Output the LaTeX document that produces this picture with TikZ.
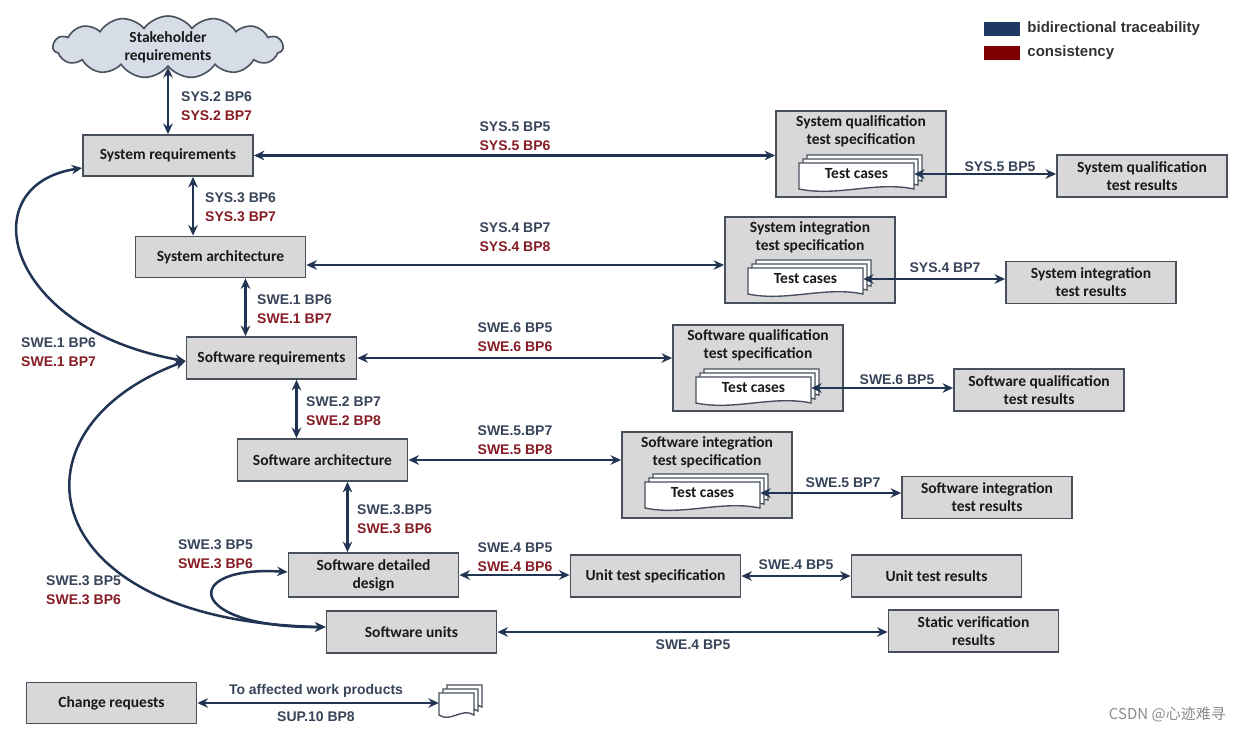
\documentclass[tikz,border=0pt]{standalone}
\usepackage{fontspec}
\setmainfont{Carlito}
\newfontfamily\arialfont{Liberation Sans}
\newfontfamily\cjkfont{Noto Sans CJK SC}
\usetikzlibrary{arrows.meta,shapes.symbols,positioning}

\definecolor{boxfill}{RGB}{216,216,216}
\definecolor{boxline}{RGB}{72,80,94}
\definecolor{linkblue}{RGB}{33,52,84}
\definecolor{traceblue}{RGB}{56,68,90}
\definecolor{consred}{RGB}{135,28,36}
\definecolor{cloudfill}{RGB}{214,221,231}
\definecolor{legblue}{RGB}{31,56,100}
\definecolor{legred}{RGB}{128,0,0}

\newcommand{\bxfont}{\bfseries\fontsize{15.5}{18}\selectfont}
\newcommand{\bpfont}{\arialfont\bfseries\fontsize{14}{18.5}\selectfont}
\newcommand{\cons}[1]{\textcolor{consred}{#1}}

\tikzset{
  box/.style={draw=boxline, fill=boxfill, line width=1.8pt, minimum width=170, minimum height=42, inner sep=2pt, align=center, font=\bxfont, text=black!90},
  specbox/.style={box, minimum height=86},
  spectitle/.style={font=\bxfont, align=center, text=black!90, inner sep=1pt},
  bp/.style={font=\bpfont, text=traceblue, align=center, inner sep=1pt},
  bpl/.style={bp, align=left, anchor=west},
  link/.style={draw=linkblue, line width=2.5pt, {Stealth[length=10.5pt,width=9.5pt]}-{Stealth[length=10.5pt,width=9.5pt]}},
  docpage/.style={draw=boxline, fill=white, line width=1.4pt},
  pics/docstack/.style n args={3}{code={
    \foreach \k in {2,1,0}{
      \begin{scope}[shift={(4*\k,-4*\k)}]
        \draw[docpage] (-#1/2,#2/2) -- (-#1/2,-#2/2) -- (#1/2,-#2/2) -- (#1/2,#2/2)
          .. controls (#1/6,#2/2-8) and (-#1/6,#2/2+8) .. (-#1/2,#2/2) -- cycle;
      \end{scope}
    }
    \node[minimum width=#1, minimum height=#2, inner sep=0pt, font=\bxfont, text=black!90] (-txt) at (0,-2) {#3};
  }}
}

\begin{document}
\begin{tikzpicture}[x=1pt,y=-1pt]
\fill[white] (0,0) rectangle (1241,732);
\useasboundingbox (0,0) rectangle (1241,732);

% legend
\node[fill=legblue, minimum width=36, minimum height=14, inner sep=0pt] (legtrace) at (1002,29) {};
\node[fill=legred, minimum width=36, minimum height=14, inner sep=0pt] (legcons) at (1002,53) {};
\node[right=7pt of legtrace, font=\arialfont\bfseries\fontsize{15}{18}\selectfont, text=black!80, inner sep=0pt] (legtrace-txt) {bidirectional traceability};
\node[right=7pt of legcons, font=\arialfont\bfseries\fontsize{15}{18}\selectfont, text=black!80, inner sep=0pt] (legcons-txt) {consistency};

% left side work products
\node[cloud, cloud puffs=15, cloud puff arc=110, aspect=3.7, draw=boxline, fill=cloudfill, line width=1.6pt, minimum width=230, minimum height=62, inner sep=0pt, font=\bxfont, align=center, text=black!90] (stake) at (168,47) {Stakeholder\\requirements};
\node[box, minimum height=41] (sysreq) at (168,155.5) {System requirements};
\node[box, minimum height=41] (sysarch) at (220.5,257) {System architecture};
\node[box] (swreq) at (271.5,358) {Software requirements};
\node[box] (swarch) at (322.5,460) {Software architecture};
\node[box, minimum height=44] (swdd) at (373.5,575) {Software detailed\\design};
\node[box] (swunits) at (411.5,632) {Software units};
\node[box, minimum height=41] (cr) at (111.5,703) {Change requests};

% test specifications
\node[specbox] (sqts) at (861,154) {};
\node[spectitle, below=4pt of sqts.north] (sqts-title) {System qualification\\test specification};
\pic (sqdoc) at (856.5,176) {docstack={115}{26}{Test cases}};
\node[specbox] (sits) at (810,260) {};
\node[spectitle, below=4pt of sits.north] (sits-title) {System integration\\test specification};
\pic (sidoc) at (805.5,281) {docstack={115}{26}{Test cases}};
\node[specbox] (swqts) at (758,368) {};
\node[spectitle, below=4pt of swqts.north] (swqts-title) {Software qualification\\test specification};
\pic (swqdoc) at (753.5,390) {docstack={115}{26}{Test cases}};
\node[specbox] (swits) at (707,475) {};
\node[spectitle, below=4pt of swits.north] (swits-title) {Software integration\\test specification};
\pic (swidoc) at (702.5,495) {docstack={115}{26}{Test cases}};

% results
\node[box] (sqres) at (1142,176) {System qualification\\test results};
\node[box] (sires) at (1091,282.5) {System integration\\test results};
\node[box] (swqres) at (1039,390) {Software qualification\\test results};
\node[box] (swires) at (987,497.5) {Software integration\\test results};
\node[box] (utspec) at (655.5,576) {Unit test specification};
\node[box] (utres) at (936.5,576) {Unit test results};
\node[box] (static) at (973.5,631) {Static verification\\results};
\pic (crdoc) at (456.5,704) {docstack={35}{22}{}};

% vertical links
\draw[link] (stake.south) -- (sysreq.north);
\draw[link] ([xshift=25pt]sysreq.south) -- ([xshift=25pt]sysreq.south |- sysarch.north);
\draw[link] ([xshift=25pt]sysarch.south) -- ([xshift=25pt]sysarch.south |- swreq.north);
\draw[link] ([xshift=25pt]swreq.south) -- ([xshift=25pt]swreq.south |- swarch.north);
\draw[link] ([xshift=25pt]swarch.south) -- ([xshift=25pt]swarch.south |- swdd.north);

% horizontal links
\coordinate (sa-out) at ([yshift=-8pt]sysarch.east);
\draw[link] (sysreq.east) -- (sysreq.east -| sqts.west);
\draw[link] (sa-out) -- (sa-out -| sits.west);
\draw[link] (swreq.east) -- (swreq.east -| swqts.west);
\draw[link] (swarch.east) -- (swarch.east -| swits.west);
\draw[link] (swdd.east) -- (swdd.east -| utspec.west);
\draw[link] (sqdoc-txt.east) -- (sqdoc-txt.east -| sqres.west);
\draw[link] (sidoc-txt.east) -- (sidoc-txt.east -| sires.west);
\draw[link] (swqdoc-txt.east) -- (swqdoc-txt.east -| swqres.west);
\draw[link] (swidoc-txt.east) -- (swidoc-txt.east -| swires.west);
\draw[link] (utspec.east) -- (utres.west);
\draw[link] (swunits.east) -- (swunits.east -| static.west);
\draw[link] (cr.east) -- (cr.east -| crdoc-txt.west);

% curved links
\coordinate (sr-left) at ([yshift=-12.5pt]sysreq.west);
\coordinate (swr-left) at ([yshift=-3pt]swreq.west);
\coordinate (dd-left) at ([yshift=3pt]swdd.west);
\coordinate (su-left) at ([yshift=5pt]swunits.west);
\draw[link] (sr-left) .. controls (-30,185) and (5,330) .. (swr-left);
\draw[link] (swr-left) .. controls (0,430) and (35,622) .. (su-left);
\draw[link] (dd-left) .. controls (180,565) and (185,628) .. (su-left);

% labels
\node[bpl] (l-sys2) at (180,106) {SYS.2 BP6\\\cons{SYS.2 BP7}};
\node[bpl] (l-sys3) at (204,207) {SYS.3 BP6\\\cons{SYS.3 BP7}};
\node[bpl] (l-swe1) at (256,309) {SWE.1 BP6\\\cons{SWE.1 BP7}};
\node[bpl] (l-swe2) at (305,411) {SWE.2 BP7\\\cons{SWE.2 BP8}};
\node[bpl] (l-swe3) at (356,519) {SWE.3.BP5\\\cons{SWE.3 BP6}};
\node[bpl] (l-swe1-left) at (20,352) {SWE.1 BP6\\\cons{SWE.1 BP7}};
\node[bpl] (l-swe3-left) at (45,590) {SWE.3 BP5\\\cons{SWE.3 BP6}};
\node[bp] (l-swe3-loop) at (215.5,554) {SWE.3 BP5\\\cons{SWE.3 BP6}};
\node[bp] (l-sys5) at (515,136) {SYS.5 BP5\\\cons{SYS.5 BP6}};
\node[bp] (l-sys4) at (515,237) {SYS.4 BP7\\\cons{SYS.4 BP8}};
\node[bp] (l-swe6) at (515,337) {SWE.6 BP5\\\cons{SWE.6 BP6}};
\node[bp] (l-swe5) at (515,440) {SWE.5.BP7\\\cons{SWE.5 BP8}};
\node[bp] (l-swe4) at (515,557) {SWE.4 BP5\\\cons{SWE.4 BP6}};
\node[bp] (l-sys5-res) at (1000,167) {SYS.5 BP5};
\node[bp] (l-sys4-res) at (945,268) {SYS.4 BP7};
\node[bp] (l-swe6-res) at (897,380) {SWE.6 BP5};
\node[bp] (l-swe5-res) at (843,483) {SWE.5 BP7};
\node[bp] (l-swe4-res) at (796,565) {SWE.4 BP5};
\node[bp] (l-swe4-static) at (693,645) {SWE.4 BP5};
\node[bp] (l-affected) at (316,691) {To affected work products};
\node[bp] (l-sup10) at (316,717) {SUP.10 BP8};

\node[font=\cjkfont\fontsize{15}{18}\selectfont, text=black!45, anchor=east, inner sep=0pt] (mark) at (1226,714) {CSDN @心迹难寻};
\end{tikzpicture}
\end{document}
